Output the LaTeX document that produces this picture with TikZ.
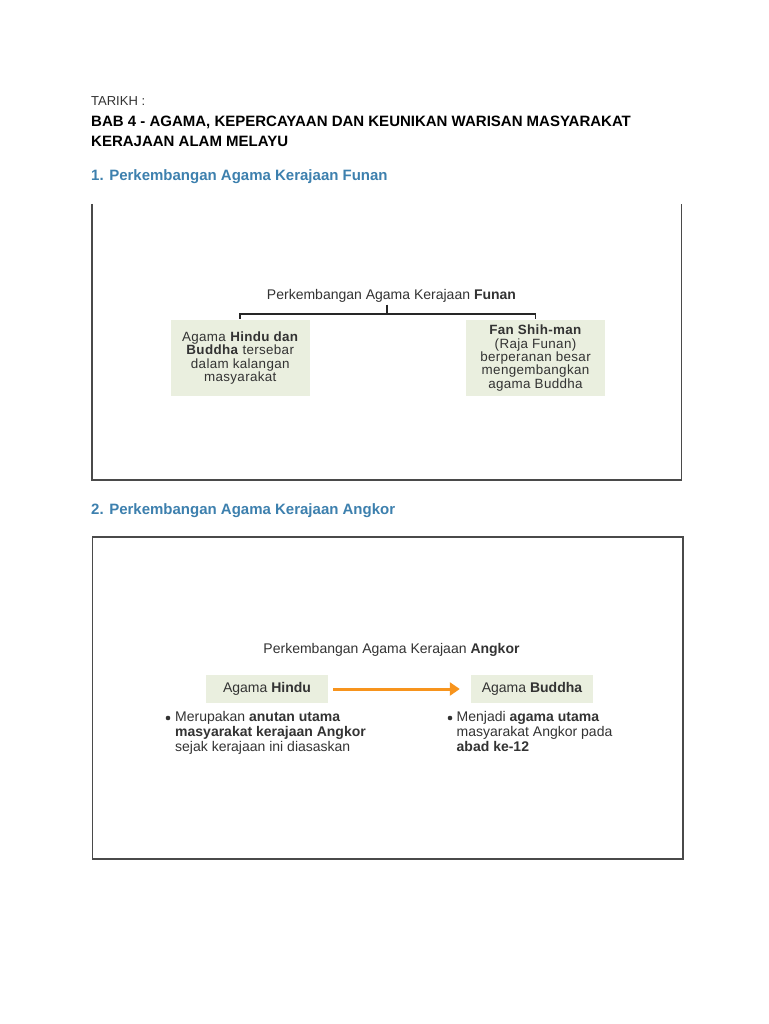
\documentclass[tikz,border=0pt]{standalone}
\usepackage{fontspec}
\setmainfont{Liberation Sans}
\newfontfamily\widesans{Liberation Sans}[LetterSpace=2.5]
\usetikzlibrary{arrows.meta}
\definecolor{txt}{HTML}{333333}
\definecolor{head}{HTML}{3D80AE}
\definecolor{boxfill}{HTML}{EAEFDF}
\definecolor{frame}{HTML}{4A4A4A}
\definecolor{orng}{HTML}{F7941D}
\begin{document}
\begin{tikzpicture}[x=1pt,y=-1pt,
  plain/.style={anchor=base west, inner sep=0pt, text=txt},
  toptext/.style={plain, font=\fontsize{15}{20}\selectfont\bfseries, text=black},
  heading/.style={plain, font=\fontsize{15}{20}\selectfont\bfseries, text=head},
  frameline/.style={draw=frame, line width=1.2pt},
  dtitle/.style={anchor=base, inner sep=0pt, text=txt, font=\fontsize{14}{16}\selectfont},
  funanbox/.style={fill=boxfill, text=txt, align=center, inner sep=0pt,
    minimum height=76pt, font=\widesans\fontsize{13.4}{13.3}\selectfont},
  angkorbox/.style={fill=boxfill, text=txt, inner sep=0pt,
    minimum width=122pt, minimum height=28pt, font=\fontsize{14}{16}\selectfont},
  bullettext/.style={anchor=north west, inner sep=0pt, text=txt, align=left,
    font=\fontsize{14}{15}\selectfont},
  bracket/.style={draw=black!85, line width=1.8pt},
  flow/.style={draw=orng, line width=3pt, -{Triangle[length=10pt,width=13pt]}}
]
\useasboundingbox (0,0) rectangle (768,1024);
\fill[white] (0,0) rectangle (768,1024);

% header
\node[plain, font=\fontsize{13}{14}\selectfont] (tarikh) at (91,105.5) {TARIKH :};
\node[toptext] (bab1) at (91,127) {BAB 4 - AGAMA, KEPERCAYAAN DAN KEUNIKAN WARISAN MASYARAKAT};
\node[toptext] (bab2) at (91,147) {KERAJAAN ALAM MELAYU};
\node[heading] (h1) at (91,180.5) {1. Perkembangan Agama Kerajaan Funan};
\node[heading] (h2) at (91,514) {2. Perkembangan Agama Kerajaan Angkor};

% frame 1 (open top)
\draw[frameline] (92,204) -- (92,480) -- (681.5,480) -- (681.5,204);

% Funan diagram
\node[dtitle] (ftitle) at (391.5,299) {Perkembangan Agama Kerajaan \textbf{Funan}};
\node[funanbox, minimum width=139.5pt] (hindu) at (240.25,358)
  {Agama \textbf{Hindu dan}\\\textbf{Buddha} tersebar\\dalam kalangan\\masyarakat};
\node[funanbox, minimum width=139pt] (fan) at (535.5,358)
  {\textbf{Fan Shih-man}\\(Raja Funan)\\berperanan besar\\mengembangkan\\agama Buddha};
\coordinate (mid) at (386.7,314);
\coordinate (midtop) at (386.7,304.5);
\draw[bracket] (midtop) -- (mid);
\draw[bracket] ([yshift=1pt]hindu.north) |- (mid) -| ([yshift=1pt]fan.north);

% frame 2
\draw[frameline] (92.5,537) rectangle (683,859);

% Angkor diagram
\node[dtitle] (atitle) at (391.5,653) {Perkembangan Agama Kerajaan \textbf{Angkor}};
\node[angkorbox] (ahindu) at (267,689) {Agama \textbf{Hindu}};
\node[angkorbox] (abuddha) at (532,689) {Agama \textbf{Buddha}};
\draw[flow] ([xshift=5pt]ahindu.east) -- ([xshift=-11pt]abuddha.west);

\fill[txt] (168,718) circle (2.3pt);
\node[bullettext] (lnote) at (175,711.3)
  {Merupakan \textbf{anutan utama}\\\textbf{masyarakat kerajaan Angkor}\\sejak kerajaan ini diasaskan};
\fill[txt] (450,718) circle (2.3pt);
\node[bullettext] (rnote) at (456.5,711.3)
  {Menjadi \textbf{agama utama}\\masyarakat Angkor pada\\\textbf{abad ke-12}};
\end{tikzpicture}
\end{document}
